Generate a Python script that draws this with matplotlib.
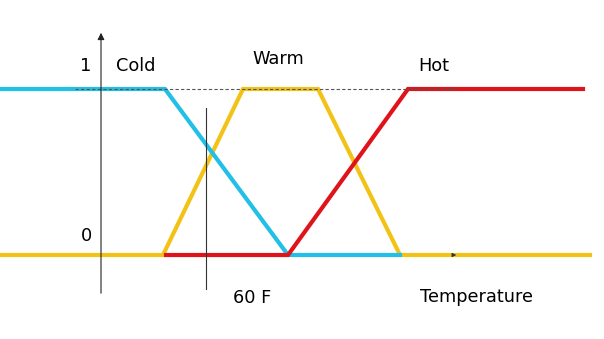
import matplotlib
matplotlib.use("Agg")
import matplotlib.pyplot as plt

# Temperature positions (horizontal, pixel-like units) and membership values
cold_x = [0, 165, 288, 400]
cold_y = [1, 1, 0, 0]
warm_x = [0, 163, 243, 318, 400, 590]
warm_y = [0, 0, 1, 1, 0, 0]
hot_x = [166, 288, 408, 583]
hot_y = [0, 0, 1, 1]

set_labels = ["Cold", "Warm", "Hot"]
set_label_x = [116, 252, 418]
set_label_y = [1.14, 1.18, 1.14]

y_axis_x = 101
marker_x = 206  # 60 F
marker_label = "60 F"
axis_label = "Temperature"

CYAN = "#22bfe6"
YELLOW = "#f2c316"
RED = "#e0131b"

# pixel mapping for membership: 1 -> y=89, 0 -> y=255 (from top)
Y1, Y0 = 89, 255
def ypix(v):
    return Y0 + (Y1 - Y0) * v

fig = plt.figure(figsize=(6.04, 3.39), dpi=100)
ax = fig.add_axes([0, 0, 1, 1])
ax.set_xlim(0, 604)
ax.set_ylim(339, 0)
ax.axis("off")

lw = 3.0
# x axis arrow head (visible on top of the yellow line)
ax.annotate("", xy=(459, Y0), xytext=(450, Y0),
            arrowprops=dict(arrowstyle="-|>", color="#333333", lw=0.6,
                            mutation_scale=6), zorder=6)
# y axis with arrow
ax.annotate("", xy=(y_axis_x, 30), xytext=(y_axis_x, 296),
            arrowprops=dict(arrowstyle="-|>", color="#222222", lw=0.8,
                            mutation_scale=10), zorder=5)
# dashed level 1 line
ax.plot([75, 455], [Y1, Y1], ls=(0, (3, 2)), color="#555555", lw=0.8, zorder=4)

ax.plot(warm_x, [ypix(v) for v in warm_y], color=YELLOW, lw=lw,
        solid_joinstyle="miter", zorder=2)
ax.plot(cold_x, [ypix(v) for v in cold_y], color=CYAN, lw=lw,
        solid_joinstyle="miter", zorder=3)
ax.plot(hot_x, [ypix(v) for v in hot_y], color=RED, lw=lw,
        solid_joinstyle="miter", zorder=3)

# 60 F marker
ax.plot([marker_x, marker_x], [108, 289], color="#333333", lw=0.8, zorder=5)

fs = 12.8
for lab, x, v in zip(set_labels, set_label_x, set_label_y):
    ax.text(x, ypix(v), lab, fontsize=fs, ha="left", va="center",
            family="DejaVu Sans")
ax.text(86, ypix(1.14), "1", fontsize=fs, ha="center", va="center")
ax.text(86, ypix(0.115), "0", fontsize=fs, ha="center", va="center")
ax.text(252, 298, marker_label, fontsize=fs, ha="center", va="center")
ax.text(476, 297, axis_label, fontsize=fs, ha="center", va="center")

fig.savefig("out.png", dpi=100)
